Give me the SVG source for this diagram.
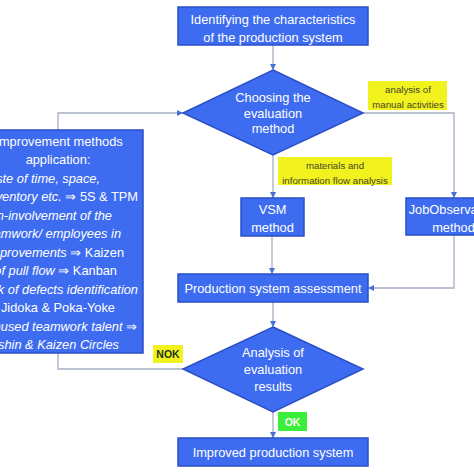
<svg xmlns="http://www.w3.org/2000/svg" width="474" height="474" viewBox="0 0 474 474">
<defs>
<marker id="ah" viewBox="0 0 10 10" refX="10" refY="5" markerWidth="6" markerHeight="6" orient="auto" markerUnits="userSpaceOnUse">
<path d="M0,0 L10,5 L0,10 z" fill="#4870D8"/>
</marker>
<style>
.box{fill:#3E6CF0;stroke:#2B4FC6;stroke-width:1.5}
.t{font-family:"Liberation Sans",Arial,sans-serif;font-size:12.8px;fill:#ffffff;text-anchor:middle}
.l{font-family:"Liberation Sans",Arial,sans-serif;font-size:12.8px;fill:#ffffff;text-anchor:end}
.i{font-style:italic}
.c{fill:none;stroke:#A6AEC2;stroke-width:1.3}
.y{fill:#F2F21E}
.yt{font-family:"Liberation Sans",Arial,sans-serif;font-size:9.7px;fill:#46462A;text-anchor:middle}
</style>
</defs>
<rect width="474" height="474" fill="#ffffff"/>
<g id="connectors">
<path class="c" d="M273,45 V70" marker-end="url(#ah)"/>
<path class="c" d="M273,155 V198" marker-end="url(#ah)"/>
<path class="c" d="M363,113 H454 V198" marker-end="url(#ah)"/>
<path class="c" d="M272,236 V274" marker-end="url(#ah)"/>
<path class="c" d="M454,235 V288 H368" marker-end="url(#ah)"/>
<path class="c" d="M273,302 V327" marker-end="url(#ah)"/>
<path class="c" d="M273,412 V438" marker-end="url(#ah)"/>
<path class="c" d="M183,369 H58 V353"/>
<path class="c" d="M58,130 V113 H183" marker-end="url(#ah)"/>
</g>
<g id="n-identify">
<rect class="box" x="178" y="7" width="190" height="38"/>
<text class="t" x="273" y="24">Identifying the characteristics</text>
<text class="t" x="273" y="42">of the production system</text>
</g>
<g id="n-choosing">
<polygon class="box" points="273,70 363,113 273,155 183,113"/>
<text class="t" x="273" y="101.5">Choosing the</text>
<text class="t" x="273" y="117.5">evaluation</text>
<text class="t" x="273" y="133">method</text>
</g>
<g id="lbl-manual">
<rect class="y" x="368" y="81" width="79" height="29"/>
<text class="yt" x="408" y="92.5">analysis of</text>
<text class="yt" x="408" y="107.5">manual activities</text>
</g>
<g id="lbl-materials">
<rect class="y" x="278" y="157" width="114" height="28"/>
<text class="yt" x="335" y="168.5">materials and</text>
<text class="yt" x="335" y="183.5">information flow analysis</text>
</g>
<g id="n-vsm">
<rect class="box" x="241" y="198" width="63" height="38"/>
<text class="t" x="272.5" y="213.5">VSM</text>
<text class="t" x="272.5" y="231.5">method</text>
</g>
<g id="n-job">
<rect class="box" x="406" y="198" width="95" height="37"/>
<text class="t" x="453.5" y="213.5">JobObservation</text>
<text class="t" x="453.5" y="231.5">method</text>
</g>
<g id="n-improvement">
<rect class="box" x="-25" y="130" width="168" height="223"/>
<text class="t" x="59" y="145.5">Improvement methods</text>
<text class="t" x="58" y="164">application:</text>
<text class="l" x="100" y="182.5"><tspan class="i">- Waste of time, space,</tspan></text>
<text class="l" x="138" y="201"><tspan class="i">inventory etc. </tspan>⇒ 5S &amp; TPM</text>
<text class="l" x="112" y="219.5"><tspan class="i">- Non-involvement of the</tspan></text>
<text class="l" x="121" y="238"><tspan class="i">teamwork/ employees in</tspan></text>
<text class="l" x="124" y="256.5"><tspan class="i">improvements </tspan>⇒ Kaizen</text>
<text class="l" x="117" y="275"><tspan class="i">- Lack of pull flow </tspan>⇒ Kanban</text>
<text class="l" x="138" y="293.5"><tspan class="i">- Lack of defects identification</tspan></text>
<text class="l" x="115" y="312">⇒ Jidoka &amp; Poka-Yoke</text>
<text class="l" x="137" y="330.5"><tspan class="i">- Unused teamwork talent </tspan>⇒</text>
<text class="l" x="119" y="349"><tspan class="i">Hoshin &amp; Kaizen Circles</tspan></text>
</g>
<g id="n-assessment">
<rect class="box" x="178" y="274" width="190" height="28"/>
<text class="t" x="273" y="292.5">Production system assessment</text>
</g>
<g id="n-analysis">
<polygon class="box" points="273,327 363,369 273,412 183,369"/>
<text class="t" x="273" y="356.5">Analysis of</text>
<text class="t" x="273" y="373.5">evaluation</text>
<text class="t" x="273" y="390.5">results</text>
</g>
<g id="lbl-nok">
<rect class="y" x="153" y="345" width="30" height="18"/>
<text class="yt" x="168" y="358" style="font-size:10.5px;fill:#223318;font-weight:bold">NOK</text>
</g>
<g id="lbl-ok">
<rect x="278" y="412" width="29" height="19" fill="#3AEE3A"/>
<text class="yt" x="292.5" y="425.5" style="font-size:10.5px;fill:#ffffff;font-weight:bold">OK</text>
</g>
<g id="n-improved">
<rect class="box" x="178" y="438" width="190" height="28"/>
<text class="t" x="273" y="457">Improved production system</text>
</g>
</svg>
